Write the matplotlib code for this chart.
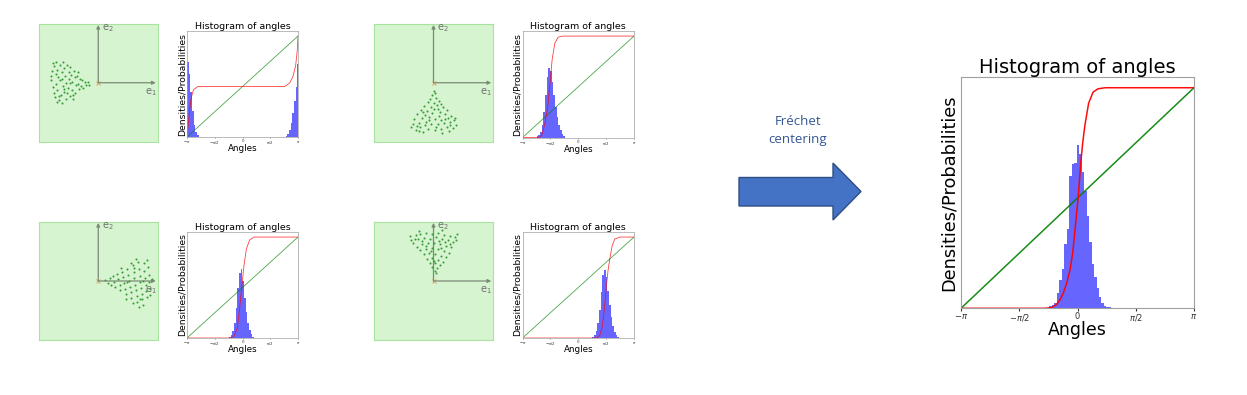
import numpy as np
import matplotlib
matplotlib.use("Agg")
import matplotlib.pyplot as plt
from matplotlib.patches import Polygon

W, H = 1247, 395

# ---- scatter clouds (unit box, origin at centre) ----
p1_x = [-0.78, -0.75, -0.80, -0.77, -0.74, -0.79, -0.72, -0.70, -0.68, -0.71, -0.69, -0.73, -0.66, -0.64, -0.62,
        -0.65, -0.60, -0.63, -0.61, -0.58, -0.56, -0.55, -0.57, -0.54, -0.52, -0.50, -0.49, -0.51, -0.48, -0.46,
        -0.44, -0.45, -0.43, -0.41, -0.40, -0.38, -0.39, -0.36, -0.34, -0.33, -0.31, -0.29, -0.27, -0.25, -0.23,
        -0.21, -0.18, -0.16, -0.47, -0.59, -0.76, -0.67, -0.53, -0.42, -0.35, -0.72, -0.62, -0.58, -0.48, -0.70]
p1_y = [0.20, 0.28, 0.05, -0.08, -0.18, 0.12, 0.35, 0.22, 0.10, -0.02, -0.12, -0.25, -0.30, 0.30, 0.18,
        0.04, -0.06, -0.20, -0.34, 0.25, 0.12, -0.01, -0.15, -0.27, 0.31, 0.19, 0.06, -0.09, -0.22, 0.14,
        0.02, -0.12, -0.28, 0.20, 0.09, -0.04, -0.17, 0.12, -0.02, -0.10, 0.07, -0.06, 0.04, -0.09, 0.02,
        -0.04, 0.01, -0.03, 0.26, 0.36, 0.33, -0.22, -0.18, -0.20, 0.18, 0.15, 0.06, -0.10, 0.00, -0.33]

p2_x = [-0.30, -0.22, -0.10, 0.02, 0.12, 0.22, 0.33, -0.35, -0.25, -0.14, -0.04, 0.07, 0.17, 0.28, 0.38,
        -0.32, -0.20, -0.08, 0.03, 0.13, 0.24, 0.34, -0.27, -0.15, -0.03, 0.09, 0.19, 0.30, -0.21, -0.11,
        0.00, 0.11, 0.22, -0.16, -0.05, 0.06, 0.16, -0.10, 0.01, 0.10, -0.06, 0.05, -0.02, 0.03, 0.00,
        -0.28, 0.26, -0.17, 0.15, 0.36, -0.37, -0.12, 0.20, 0.07, -0.08, 0.27, -0.24, 0.04, -0.18, 0.13]
p2_y = [-0.80, -0.76, -0.79, -0.81, -0.78, -0.75, -0.77, -0.70, -0.68, -0.72, -0.70, -0.71, -0.69, -0.67, -0.72,
        -0.62, -0.60, -0.63, -0.61, -0.64, -0.60, -0.63, -0.54, -0.55, -0.52, -0.56, -0.53, -0.56, -0.47, -0.48,
        -0.45, -0.49, -0.46, -0.40, -0.41, -0.38, -0.42, -0.33, -0.34, -0.31, -0.27, -0.26, -0.21, -0.17, -0.14,
        -0.74, -0.82, -0.84, -0.85, -0.60, -0.76, -0.66, -0.62, -0.44, -0.58, -0.72, -0.82, -0.75, -0.50, -0.37]

p3_x = [0.12, 0.16, 0.20, 0.22, 0.25, 0.27, 0.29, 0.32, 0.34, 0.36, 0.37, 0.40, 0.41, 0.43, 0.45,
        0.46, 0.49, 0.50, 0.52, 0.53, 0.55, 0.56, 0.58, 0.60, 0.61, 0.62, 0.64, 0.65, 0.66, 0.67,
        0.69, 0.70, 0.71, 0.72, 0.73, 0.74, 0.75, 0.77, 0.78, 0.79, 0.80, 0.81, 0.82, 0.84, 0.85,
        0.86, 0.87, 0.88, 0.63, 0.55, 0.47, 0.58, 0.68, 0.83, 0.90, 0.60, 0.70, 0.76, 0.38, 0.48]
p3_y = [0.02, -0.03, 0.05, -0.06, 0.09, -0.01, -0.10, 0.12, 0.03, -0.07, -0.15, 0.16, 0.06, -0.04, -0.13,
        -0.22, 0.21, 0.10, 0.00, -0.10, -0.19, -0.28, 0.27, 0.15, 0.05, -0.06, -0.16, -0.25, -0.35, 0.33,
        0.20, 0.09, -0.02, -0.12, -0.22, -0.31, -0.41, 0.30, 0.17, 0.05, -0.06, -0.17, -0.27, 0.24, 0.11,
        -0.01, -0.14, -0.23, 0.37, 0.31, -0.30, -0.38, -0.44, 0.35, 0.03, 0.22, -0.30, 0.00, 0.22, -0.02]

p4_x = [-0.38, -0.30, -0.22, -0.12, -0.02, 0.08, 0.18, 0.28, 0.36, -0.34, -0.26, -0.16, -0.06, 0.04, 0.14,
        0.24, 0.33, -0.28, -0.19, -0.09, 0.01, 0.11, 0.21, 0.30, -0.22, -0.13, -0.03, 0.07, 0.17, 0.26,
        -0.16, -0.07, 0.03, 0.12, 0.21, -0.11, -0.02, 0.08, 0.16, -0.06, 0.03, 0.11, -0.02, 0.06, 0.02,
        0.05, -0.40, 0.40, -0.25, 0.15, 0.38, -0.12, 0.19, -0.04, 0.09, -0.31, 0.27, -0.20, 0.00, 0.13]
p4_y = [0.70, 0.78, 0.80, 0.82, 0.79, 0.81, 0.78, 0.77, 0.74, 0.64, 0.71, 0.73, 0.72, 0.74, 0.71,
        0.70, 0.66, 0.58, 0.63, 0.65, 0.64, 0.62, 0.60, 0.57, 0.52, 0.55, 0.56, 0.54, 0.51, 0.48,
        0.45, 0.47, 0.46, 0.43, 0.40, 0.38, 0.39, 0.36, 0.33, 0.31, 0.30, 0.27, 0.24, 0.22, 0.17,
        0.14, 0.76, 0.80, 0.85, 0.86, 0.70, 0.60, 0.66, 0.51, 0.68, 0.72, 0.63, 0.68, 0.34, 0.56]

# ---- histograms of angles: first bin edge, bin width, bar heights ----
bw_small = 0.094
h1_left_start = -np.pi
h1_left = [0.74, 0.62, 0.45, 0.26, 0.12, 0.05, 0.015]
h1_right_start = 2.44
h1_right = [0.01, 0.03, 0.07, 0.14, 0.24, 0.36, 0.50, 0.72]
h2_start = -2.35
h2 = [0.01, 0.02, 0.05, 0.12, 0.25, 0.42, 0.60, 0.69, 0.66, 0.55, 0.42, 0.30, 0.20, 0.12, 0.07, 0.03, 0.01]
h3_start = -0.76
h3 = [0.01, 0.03, 0.07, 0.15, 0.30, 0.50, 0.64, 0.68, 0.56, 0.40, 0.26, 0.15, 0.08, 0.035, 0.012, 0.004]
h4_start = 0.80
h4 = [0.01, 0.03, 0.07, 0.15, 0.28, 0.46, 0.62, 0.67, 0.60, 0.47, 0.33, 0.21, 0.12, 0.06, 0.025, 0.01, 0.004]

bw_big = 0.067
hb_start = -0.76
hb = [0.01, 0.015, 0.023, 0.07, 0.13, 0.18, 0.29, 0.36, 0.60, 0.656, 0.66, 0.74, 0.70,
      0.62, 0.53, 0.42, 0.30, 0.20, 0.14, 0.09, 0.05, 0.025, 0.012, 0.006, 0.004, 0.002]

# ---- red cumulative curves (angle, probability) ----
r1_t = [-np.pi, -2.99, -2.90, -2.77, -2.52, 2.39, 2.67, 2.86, 3.01, 3.10, np.pi]
r1_p = [0.0, 0.27, 0.39, 0.47, 0.50, 0.50, 0.535, 0.60, 0.71, 0.86, 1.0]
r2_t = [-np.pi, -2.26, -2.07, -1.88, -1.73, -1.60, -1.47, -1.32, -1.13, -0.85, np.pi]
r2_p = [0.0, 0.0, 0.016, 0.136, 0.29, 0.52, 0.77, 0.93, 0.99, 1.0, 1.0]
r3_t = [-np.pi, -0.667, -0.479, -0.29, -0.16, -0.046, 0.085, 0.217, 0.40, 0.65, np.pi]
r3_p = [0.0, 0.0, 0.02, 0.10, 0.30, 0.50, 0.72, 0.88, 0.97, 1.0, 1.0]
r4_t = [-np.pi, 1.023, 1.21, 1.342, 1.455, 1.567, 1.68, 1.774, 1.905, 2.055, 2.34, np.pi]
r4_p = [0.0, 0.0, 0.025, 0.10, 0.26, 0.48, 0.67, 0.78, 0.91, 0.98, 1.0, 1.0]
rb_t = [-np.pi, -0.9, -0.7, -0.56, -0.45, -0.38, -0.29, -0.2, -0.13, -0.067, 0.02, 0.086,
        0.14, 0.2, 0.3, 0.42, 0.55, 0.75, np.pi]
rb_p = [0.0, 0.0, 0.003, 0.018, 0.045, 0.07, 0.115, 0.176, 0.25, 0.356, 0.506, 0.656,
        0.75, 0.83, 0.93, 0.98, 0.995, 1.0, 1.0]

tick_pos = [-np.pi, -np.pi / 2, 0, np.pi / 2, np.pi]
tick_lab = [r'$-\pi$', r'$-\pi/2$', '0', r'$\pi/2$', r'$\pi$']

fig = plt.figure(figsize=(W / 100, H / 100), dpi=100)


def place(x0, y0, x1, y1):
    return fig.add_axes([x0 / W, 1 - y1 / H, (x1 - x0) / W, (y1 - y0) / H])


def cloud(box, xs, ys):
    ax = place(*box)
    ax.set_facecolor('#d5f4cf')
    for s in ax.spines.values():
        s.set_color('#a9e3a0')
        s.set_linewidth(0.8)
    ax.set_xlim(-1, 1)
    ax.set_ylim(-1, 1)
    ax.set_xticks([])
    ax.set_yticks([])
    arr = dict(arrowstyle='-|>', color='#7b8a76', lw=0.9, mutation_scale=5, shrinkA=0, shrinkB=0)
    ax.annotate('', xy=(0.97, 0), xytext=(0, 0), arrowprops=arr)
    ax.annotate('', xy=(0, 0.985), xytext=(0, 0), arrowprops=arr)
    ax.plot([0], [0], marker='x', color='#e8a060', ms=2.5, mew=0.7)
    ax.scatter(xs, ys, s=2.2, color='#3a9c3a', lw=0, zorder=3)
    ax.text(0.88, -0.06, r'$\mathrm{e}_1$', color='#6f6f6f', fontsize=7, ha='center', va='top')
    ax.text(0.06, 0.93, r'$\mathrm{e}_2$', color='#6f6f6f', fontsize=7, ha='left', va='center')


def angle_hist(box, parts, bw, red_t, red_p, big=False):
    ax = place(*box)
    for start, heights in parts:
        edges = start + bw * np.arange(len(heights) + 1)
        ax.stairs(heights, edges, fill=True, color='blue', alpha=0.6, lw=0)
    lw = 1.1 if big else 0.6
    ax.plot([-np.pi, np.pi], [0, 1], color='green', lw=lw, alpha=0.9 if big else 0.7)
    ax.plot(red_t, red_p, color='red', lw=lw, alpha=0.95 if big else 0.75)
    ax.set_xlim(-np.pi, np.pi)
    ax.set_ylim(0, 1.05)
    ax.set_yticks([])
    ax.set_xticks(tick_pos)
    ax.set_xticklabels(tick_lab)
    for s in ax.spines.values():
        s.set_color('#a0a0a0')
        s.set_linewidth(0.8 if big else 0.5)
    if big:
        ax.tick_params(axis='x', labelsize=6, length=2, pad=1, colors='#333333')
        ax.set_title('Histogram of angles', fontsize=14, pad=3)
        ax.set_xlabel('Angles', fontsize=12.5, labelpad=-2)
        ax.set_ylabel('Densities/Probabilities', fontsize=12.8, labelpad=2)
    else:
        ax.tick_params(axis='x', labelsize=2.8, length=1, width=0.4, pad=0.5, colors='#333333')
        ax.set_title('Histogram of angles', fontsize=6.8, pad=1.5)
        ax.set_xlabel('Angles', fontsize=6.3, labelpad=-1.5)
        ax.set_ylabel('Densities/Probabilities', fontsize=6.7, labelpad=0.5)
    return ax


# left block: four clouds and their histograms
cloud((39, 24, 157.5, 141.5), p1_x, p1_y)
cloud((374, 24, 493, 141.5), p2_x, p2_y)
cloud((39, 222, 157.5, 340), p3_x, p3_y)
cloud((374, 222, 493, 340), p4_x, p4_y)

angle_hist((187, 31, 298, 137), [(h1_left_start, h1_left), (h1_right_start, h1_right)], bw_small, r1_t, r1_p)
angle_hist((522.5, 31, 634, 137.5), [(h2_start, h2)], bw_small, r2_t, r2_p)
angle_hist((187, 232, 298, 338), [(h3_start, h3)], bw_small, r3_t, r3_p)
angle_hist((522.5, 232, 634, 338), [(h4_start, h4)], bw_small, r4_t, r4_p)

# right: centred result
angle_hist((961, 76.7, 1194, 308.3), [(hb_start, hb)], bw_big, rb_t, rb_p, big=True)

# block arrow and caption
ov = fig.add_axes([0, 0, 1, 1], zorder=-1)
ov.set_xlim(0, W)
ov.set_ylim(H, 0)
ov.axis('off')
ov.add_patch(Polygon([(739, 177.5), (833, 177.5), (833, 163), (861, 191.5), (833, 220),
                      (833, 206), (739, 206)], closed=True, facecolor='#4472c4',
                     edgecolor='#2f4f86', lw=1))
fig.text(798 / W, 1 - 121 / H, 'Fréchet', ha='center', va='center', fontsize=9.5,
         color='#345694', family='Open Sans')
fig.text(798 / W, 1 - 139 / H, 'centering', ha='center', va='center', fontsize=9.5,
         color='#345694', family='Open Sans')

fig.savefig('out.png', dpi=100)
